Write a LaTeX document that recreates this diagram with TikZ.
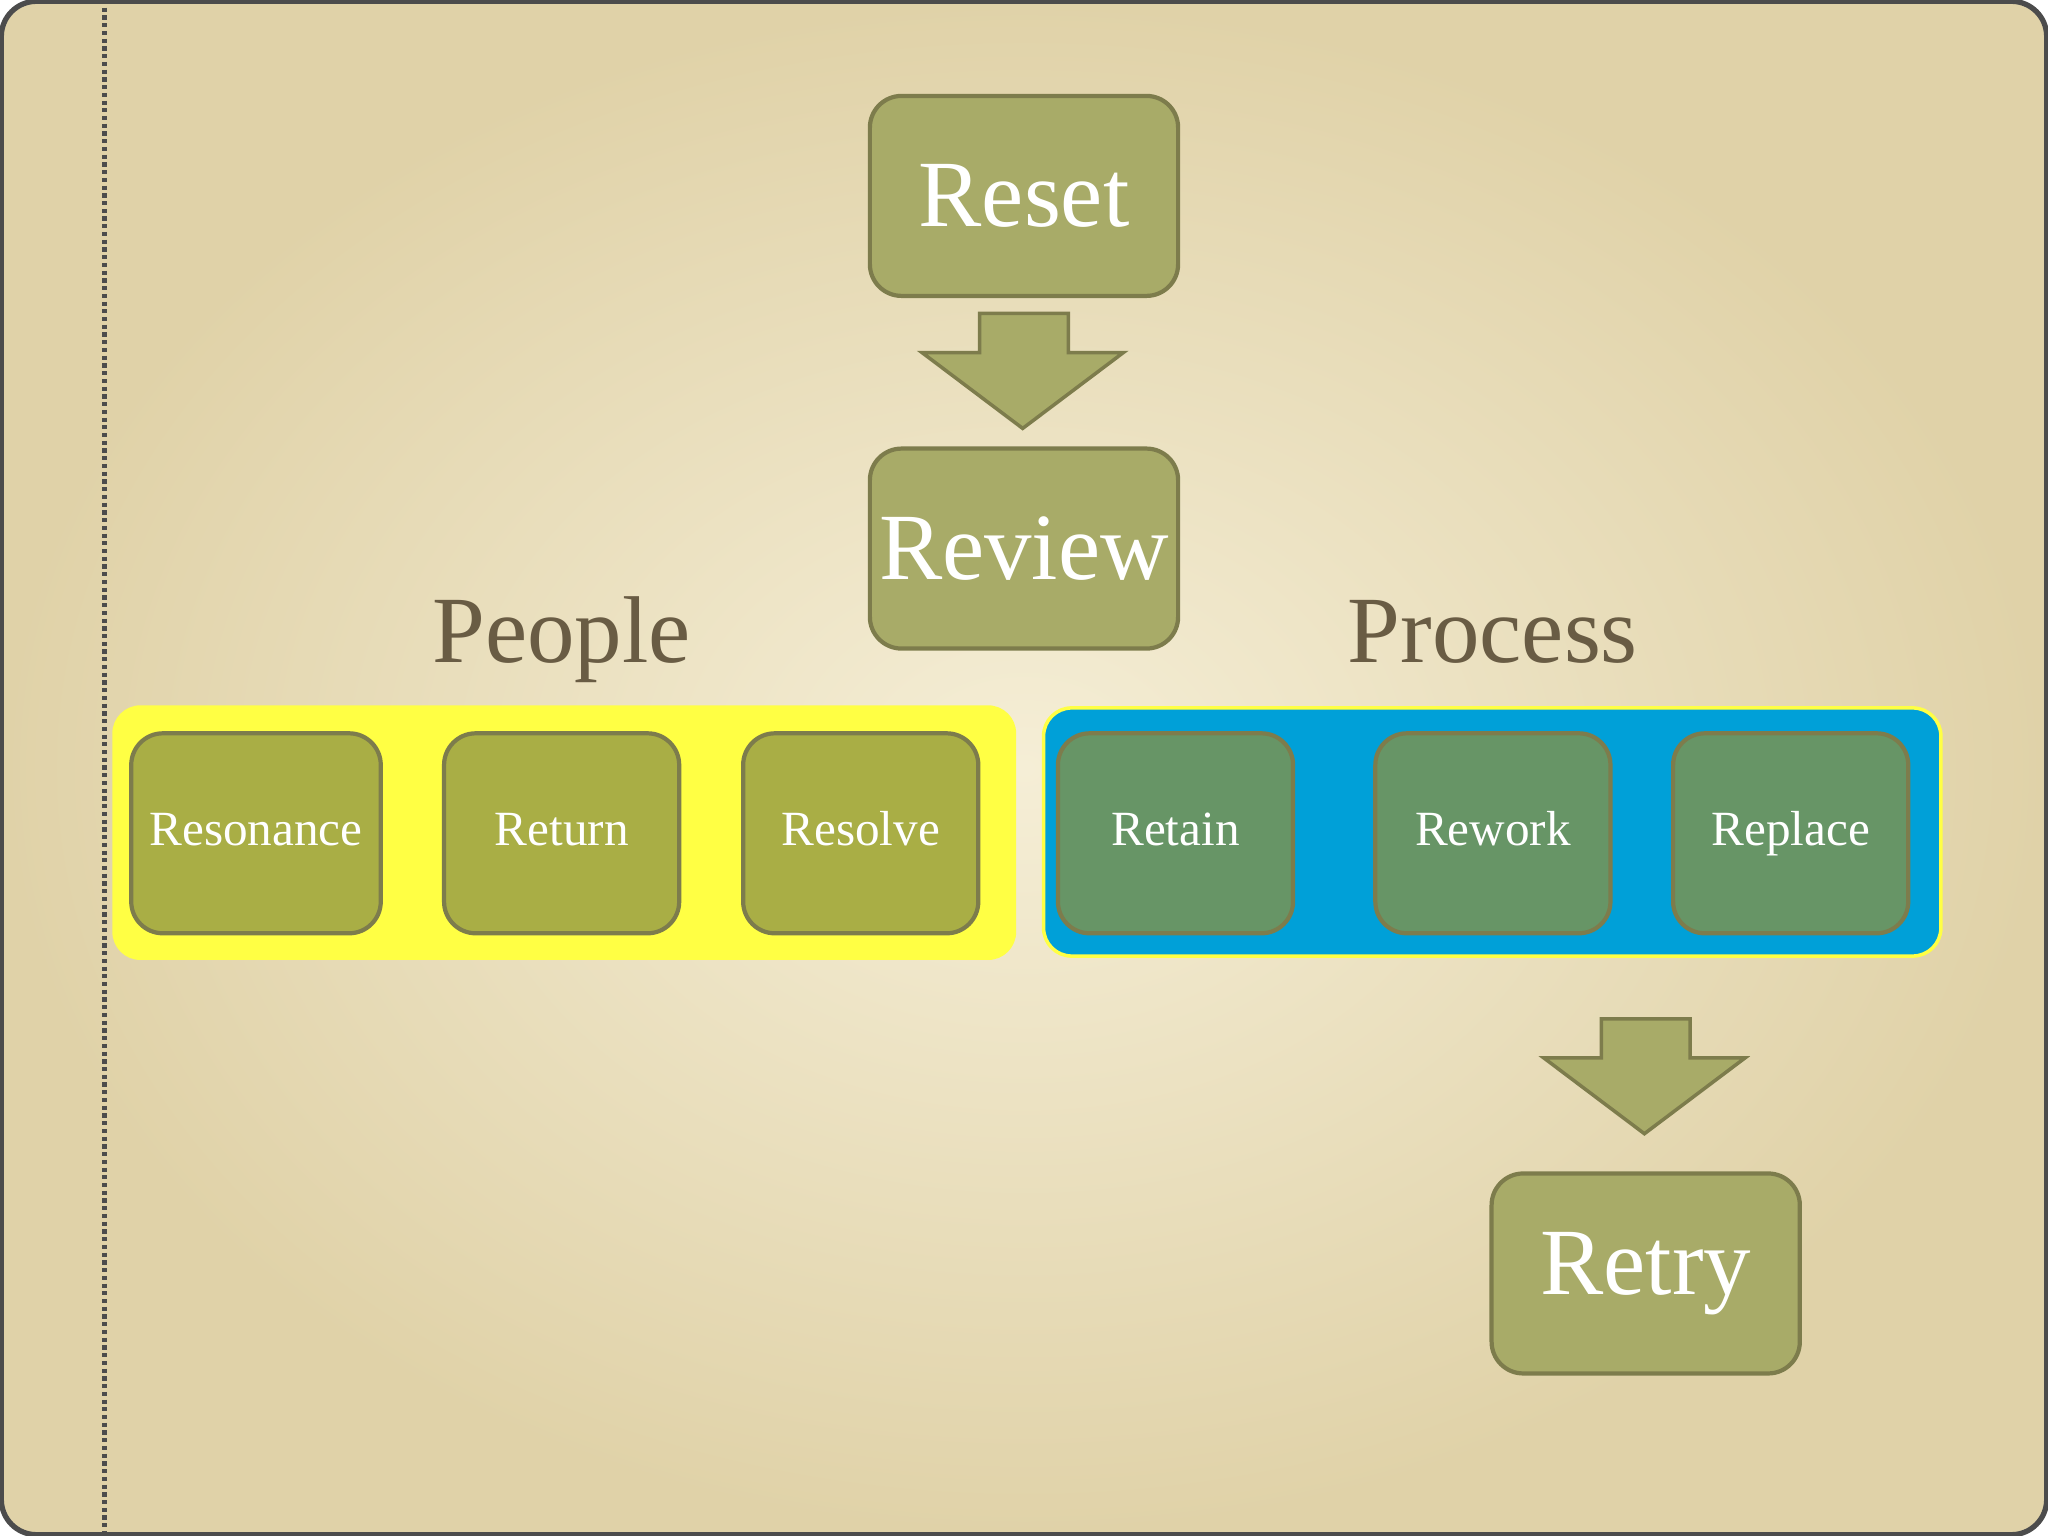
\documentclass[tikz,border=0pt]{standalone}
\usepackage{fontspec}
\setmainfont{Liberation Serif}
\definecolor{paper}{RGB}{245,238,214}
\definecolor{paperdark}{RGB}{224,210,168}
\definecolor{olivebox}{RGB}{168,171,104}
\definecolor{oliveedge}{RGB}{125,124,76}
\definecolor{peoplebox}{RGB}{169,174,69}
\definecolor{processbox}{RGB}{103,149,102}
\definecolor{panelyellow}{RGB}{255,255,68}
\definecolor{panelblue}{RGB}{0,160,216}
\definecolor{headtext}{RGB}{105,92,68}
\tikzset{
  bigbox/.style={draw=oliveedge,line width=1.2pt,fill=olivebox,rounded corners=9pt,inner sep=0pt,
    text=white,font=\fontsize{27}{27}\selectfont,minimum width=87.7pt,minimum height=56.9pt},
  smallbox/.style={draw=oliveedge,line width=1.2pt,rounded corners=9pt,inner sep=0pt,
    text=white,font=\fontsize{14}{14}\selectfont,minimum width=66.9pt,minimum height=56.9pt,
    text height=10pt,text depth=3pt},
  heading/.style={text=headtext,font=\fontsize{27}{27}\selectfont,text height=19pt,text depth=6pt},
  blockarrow/.style={draw=oliveedge,line width=1pt,fill=olivebox}
}
\begin{document}
\begin{tikzpicture}[x=0.01306cm,y=-0.01306cm]
  % background
  \useasboundingbox (0,0) rectangle (1568,1176);
  \draw[rounded corners=10pt,line width=1.5pt,draw=black!70,inner color=paper,outer color=paperdark]
    (1,1) rectangle (1567,1175);
  \draw[densely dotted,line width=1.2pt,black!70] (80,0) -- (80,1176);
  % top flow
  \node[bigbox] (reset) at (784,150) {Reset};
  \node[bigbox] (review) at (784,420) {Review};
  \draw[blockarrow] (750,240) -- (818,240) -- (818,270) -- (860,270) -- (783,328)
    -- (706,270) -- (750,270) -- cycle;
  % group headings
  \node[heading] (people) at (430,490) {People};
  \node[heading] (process) at (1143,490) {Process};
  % panels
  \draw[fill=panelyellow,draw=none,rounded corners=8pt] (86,540) rectangle (778,735);
  \draw[fill=panelblue,draw=panelyellow,line width=1pt,rounded corners=8pt] (799,542) rectangle (1486,732);
  % people boxes
  \node[smallbox,fill=peoplebox,minimum width=71pt] (resonance) at (196,638) {Resonance};
  \node[smallbox,fill=peoplebox] (return) at (430,638) {Return};
  \node[smallbox,fill=peoplebox] (resolve) at (659,638) {Resolve};
  % process boxes
  \node[smallbox,fill=processbox] (retain) at (900,638) {Retain};
  \node[smallbox,fill=processbox] (rework) at (1143,638) {Rework};
  \node[smallbox,fill=processbox] (replace) at (1371,638) {Replace};
  % bottom flow
  \draw[blockarrow] (1226,780) -- (1294,780) -- (1294,810) -- (1336,810) -- (1259,868)
    -- (1182,810) -- (1226,810) -- cycle;
  \node[bigbox] (retry) at (1260,975) {Retry};
\end{tikzpicture}
\end{document}
